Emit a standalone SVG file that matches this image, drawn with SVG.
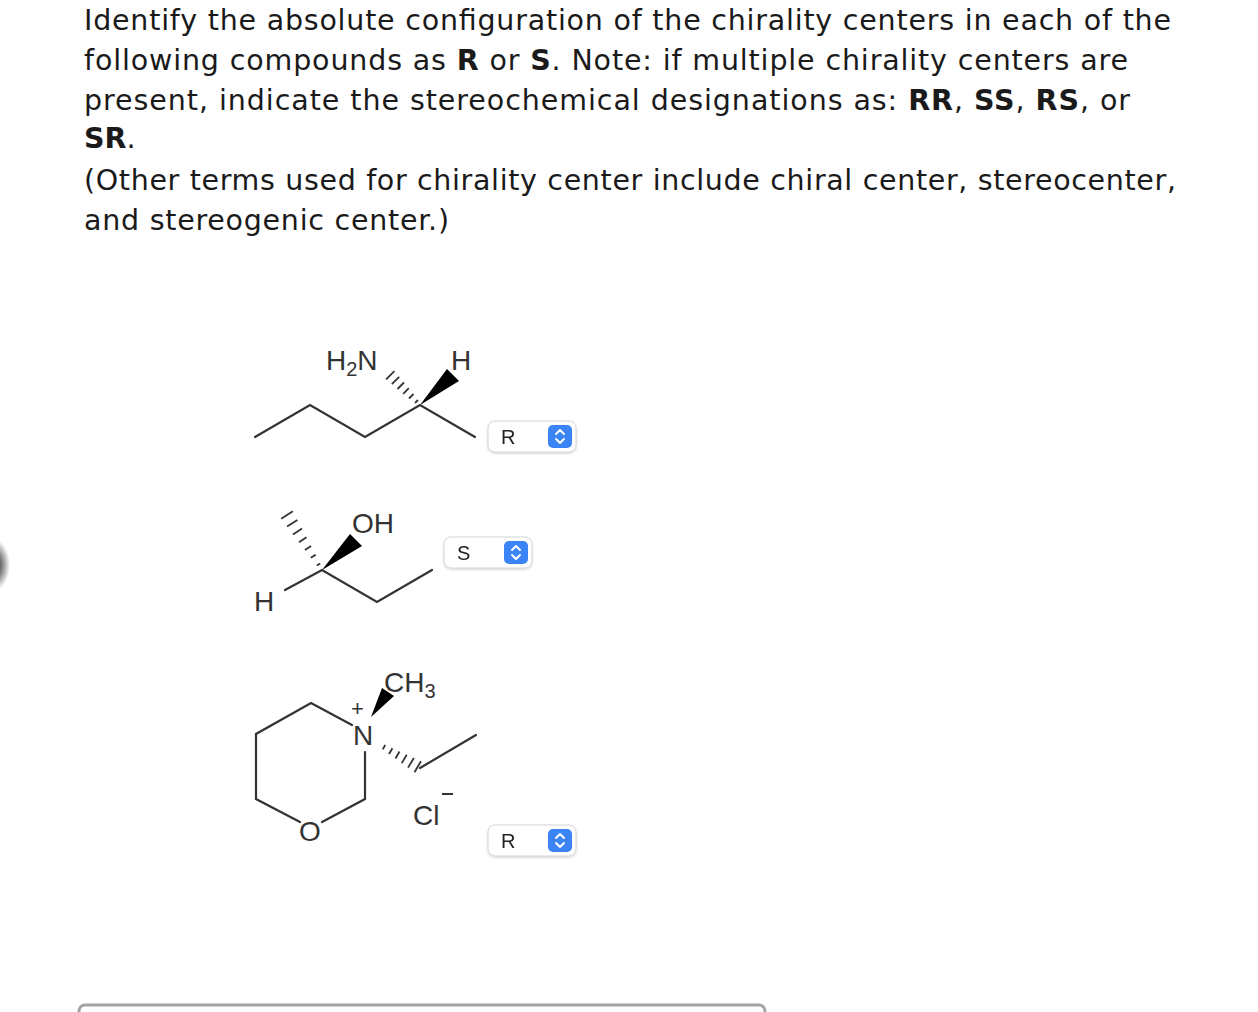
<svg xmlns="http://www.w3.org/2000/svg" width="1258" height="1012" viewBox="0 0 1258 1012">
<defs>
<radialGradient id="sh" cx="0.5" cy="0.5" r="0.5"><stop offset="0" stop-color="#000" stop-opacity="0.9"/><stop offset="0.5" stop-color="#000" stop-opacity="0.5"/><stop offset="1" stop-color="#000" stop-opacity="0"/></radialGradient>
<filter id="ds" x="-10%" y="-20%" width="120%" height="150%"><feDropShadow dx="0" dy="1" stdDeviation="1" flood-color="#000" flood-opacity="0.2"/></filter>
</defs>
<style>
.q{font-family:"DejaVu Sans",Verdana,sans-serif;font-size:28.5px;fill:#1a1a1a}
.b{font-weight:bold}
.bond{stroke:#333;stroke-width:2.2;fill:none;stroke-linecap:round}
.hash{stroke:#333;stroke-width:1.8}
.at{font-family:"Liberation Sans",Arial,sans-serif;font-size:28px;fill:#333}
.sub{font-size:20px}
.dd{fill:#fff;stroke:#d6d6d6;stroke-width:1}
.btn{fill:#3b84f5}
.chev{stroke:#fff;stroke-width:2;fill:none;stroke-linecap:round;stroke-linejoin:round}
.sel{font-family:"Liberation Sans",Arial,sans-serif;font-size:20px;fill:#222}
</style>
<rect width="1258" height="1012" fill="#fff"/>
<ellipse cx="-6" cy="565" rx="16" ry="26" fill="url(#sh)"/>
<g id="question">
<text class="q" x="84" y="30" textLength="1087">Identify the absolute configuration of the chirality centers in each of the</text>
<text class="q" x="84" y="70" textLength="1044">following compounds as <tspan class="b">R</tspan> or <tspan class="b">S</tspan>. Note: if multiple chirality centers are</text>
<text class="q" x="84" y="110" textLength="1046">present, indicate the stereochemical designations as: <tspan class="b">RR</tspan>, <tspan class="b">SS</tspan>, <tspan class="b">RS</tspan>, or</text>
<text class="q" x="84" y="148"><tspan class="b">SR</tspan>.</text>
<text class="q" x="84" y="190" textLength="1092">(Other terms used for chirality center include chiral center, stereocenter,</text>
<text class="q" x="84" y="230" textLength="365">and stereogenic center.)</text>
</g>
<g id="connectors">
<polyline class="bond" points="255,437 310,405 365,437 420,405 475,437"/>
<g class="hash"><line x1="418" y1="400" x2="415" y2="403"/><line x1="413.5" y1="394" x2="409" y2="398.5"/><line x1="408.8" y1="388.2" x2="403.2" y2="393.8"/><line x1="404" y1="382.5" x2="397.5" y2="389"/><line x1="399.2" y1="376.8" x2="391.8" y2="384.2"/><line x1="394.4" y1="371.1" x2="386.1" y2="379.4"/></g>
<polygon points="420,405 459,381 447,369" fill="#000"/>
<polyline class="bond" points="285,590 322,570 377,602 432,570"/>
<g class="hash"><line x1="320.2" y1="563.4" x2="316.8" y2="565.6"/><line x1="315.7" y1="554.7" x2="310.8" y2="557.8"/><line x1="311.1" y1="546" x2="304.9" y2="550"/><line x1="306.5" y1="537.3" x2="299" y2="542.2"/><line x1="302" y1="528.6" x2="293" y2="534.4"/><line x1="297.4" y1="520" x2="287.1" y2="526.5"/><line x1="292.8" y1="511.3" x2="281.2" y2="518.7"/></g>
<polygon points="322,570 362,546 350,534" fill="#000"/>
<polyline class="bond" points="352,725 311,703 256,734 256,799 300,822"/>
<polyline class="bond" points="322,822 365,799 365,752"/>
<g class="hash"><line x1="385.2" y1="745" x2="382.8" y2="749.4"/><line x1="392.4" y1="748.2" x2="389.1" y2="754"/><line x1="399.5" y1="751.5" x2="395.5" y2="758.5"/><line x1="406.7" y1="754.7" x2="401.8" y2="763.1"/><line x1="413.9" y1="758" x2="408.1" y2="767.6"/><line x1="421" y1="761.2" x2="414.5" y2="772.2"/></g>
<line class="bond" x1="420" y1="768" x2="476" y2="735"/>
<polygon points="371,717 394,696 382,688" fill="#000"/>
</g>
<g id="mol1">
<text class="at" x="326" y="370">H<tspan class="sub" dy="6">2</tspan><tspan dy="-6">N</tspan></text>
<text class="at" x="451" y="370">H</text>
</g>
<g id="mol2">
<text class="at" x="352" y="533">OH</text>
<text class="at" x="254" y="611">H</text>
</g>
<g id="mol3">
<text class="at" x="384" y="692">CH<tspan class="sub" dy="6">3</tspan></text>
<text class="at" x="353" y="745">N</text>
<text class="at" x="351" y="716" style="font-size:22px">+</text>
<text class="at" x="299" y="841">O</text>
<text class="at" x="413" y="825">Cl</text>
<line x1="442" y1="794" x2="453" y2="794" stroke="#333" stroke-width="2"/>
</g>
<g id="select1" filter="url(#ds)">
<rect class="dd" x="488" y="421" width="88" height="31" rx="7"/>
<rect class="btn" x="548" y="425" width="24" height="23" rx="5"/>
<polyline class="chev" points="556,434 560,430 564,434"/><polyline class="chev" points="556,439 560,443 564,439"/>
<text class="sel" x="501" y="444">R</text>
</g>
<g id="select2" filter="url(#ds)">
<rect class="dd" x="444" y="537" width="88" height="31" rx="7"/>
<rect class="btn" x="504" y="541" width="24" height="23" rx="5"/>
<polyline class="chev" points="512,550 516,546 520,550"/><polyline class="chev" points="512,555 516,559 520,555"/>
<text class="sel" x="457" y="560">S</text>
</g>
<g id="select3" filter="url(#ds)">
<rect class="dd" x="488" y="825" width="88" height="31" rx="7"/>
<rect class="btn" x="548" y="829" width="24" height="23" rx="5"/>
<polyline class="chev" points="556,838 560,834 564,838"/><polyline class="chev" points="556,843 560,847 564,843"/>
<text class="sel" x="501" y="848">R</text>
</g>
<rect x="79" y="1005" width="686" height="30" rx="6" fill="#fff" stroke="#a4a4a6" stroke-width="3"/>
</svg>
